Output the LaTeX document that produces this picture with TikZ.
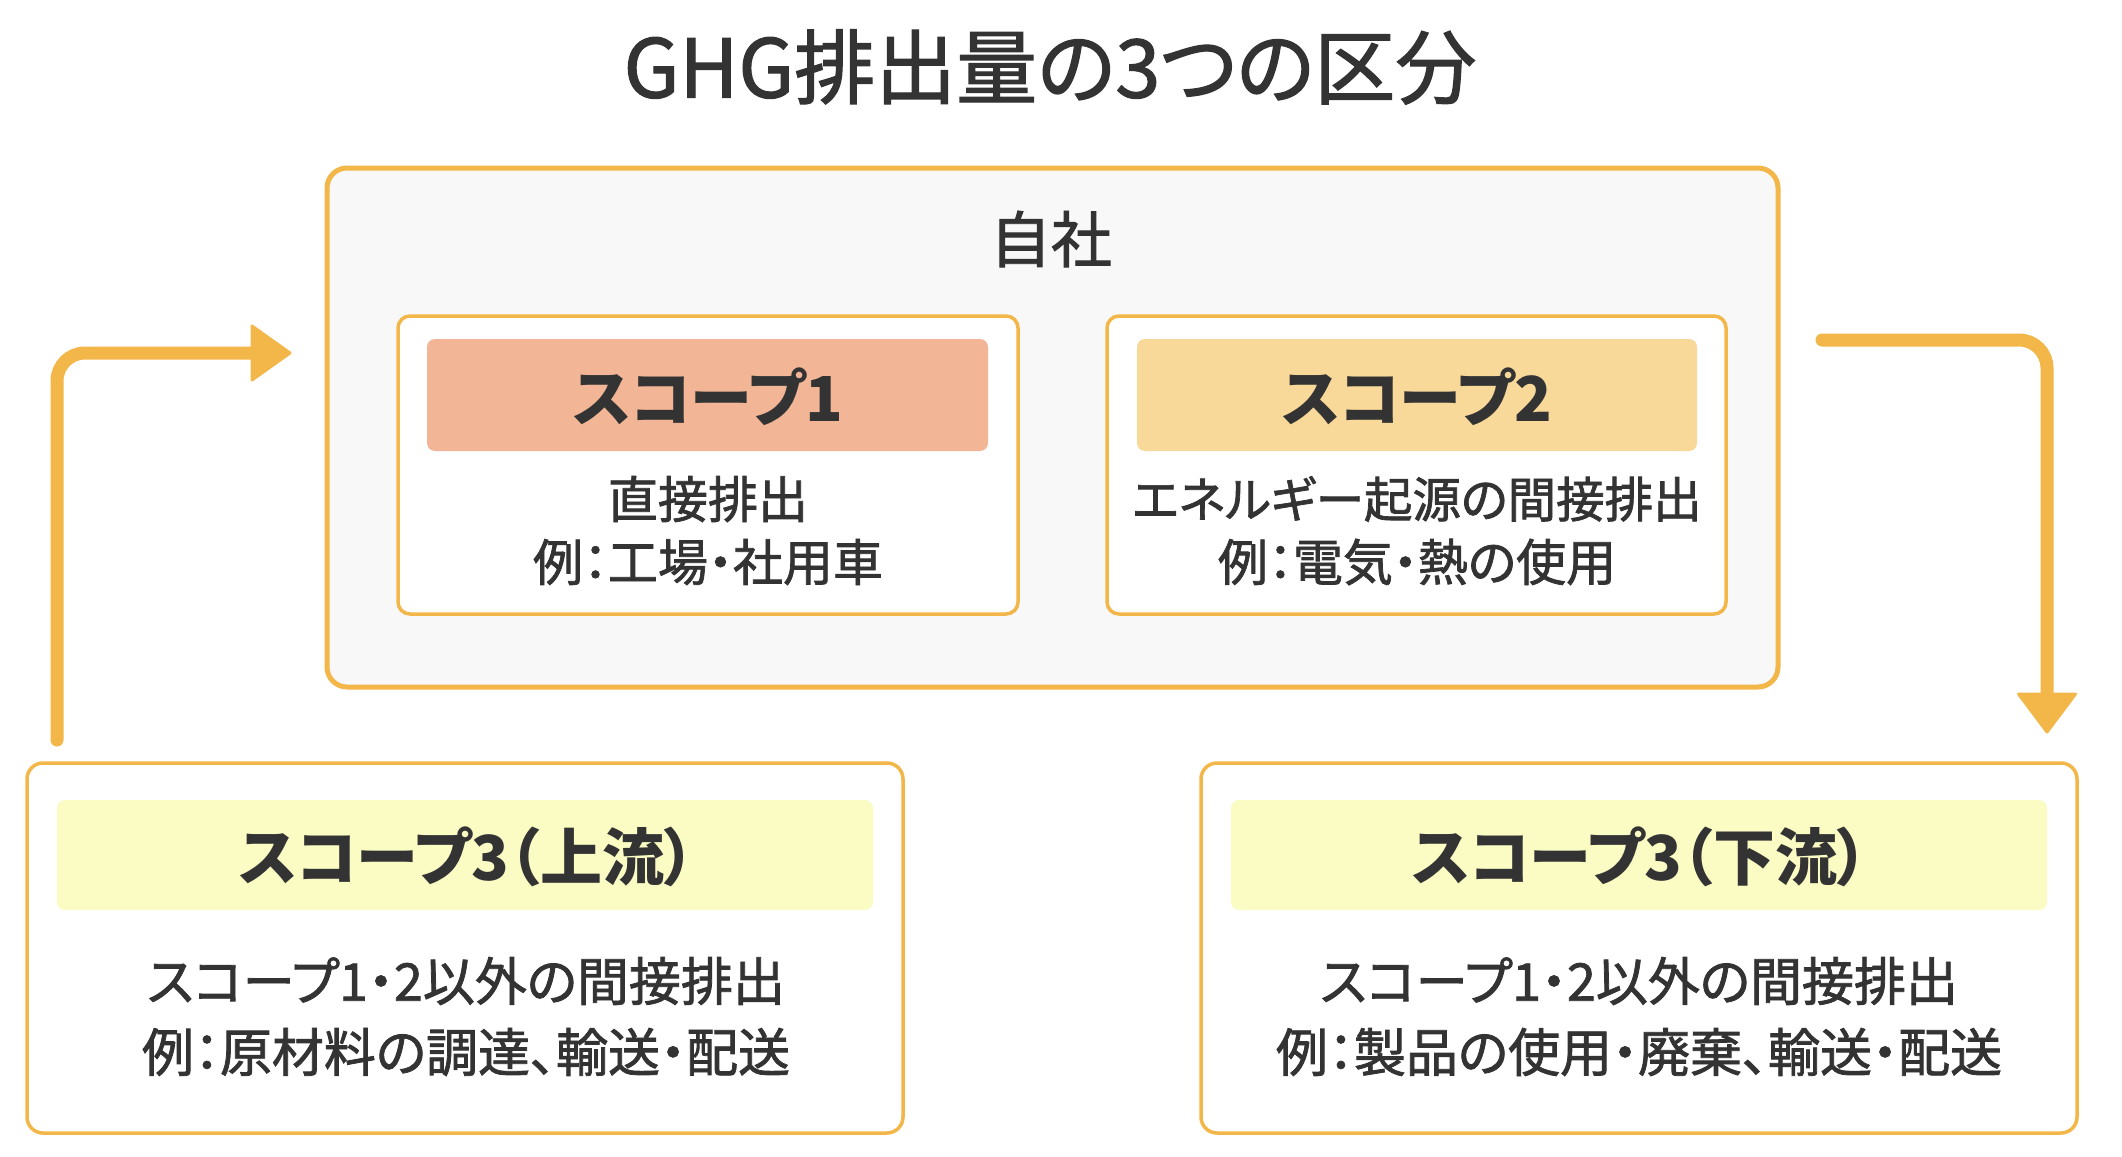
\documentclass[tikz,border=0pt]{standalone}
\usepackage{fontspec}
\setmainfont{Noto Sans CJK JP}[RawFeature=+palt]
\newfontfamily\medfont{Noto Sans CJK JP}[RawFeature=+palt, FakeBold=1.5]
\definecolor{accent}{HTML}{F3B648}
\definecolor{framefill}{HTML}{F8F8F8}
\definecolor{hdrone}{HTML}{F2B696}
\definecolor{hdrtwo}{HTML}{F9D999}
\definecolor{hdrthree}{HTML}{FBFCC4}
\definecolor{ink}{HTML}{333333}
\begin{document}
\begin{tikzpicture}[x=1pt,y=-1pt,
  outerframe/.style={draw=accent, line width=5pt, fill=framefill, rounded corners=20pt, inner sep=0pt},
  scopebox/.style={draw=accent, line width=3.5pt, fill=white, rounded corners=12pt, inner sep=0pt},
  hdrbox/.style={rounded corners=8pt, inner sep=0pt},
  hdrtext/.style={text=ink, inner sep=0pt, font=\bfseries\fontsize{62}{72}\selectfont},
  bodytext/.style={text=ink, inner sep=0pt, font=\medfont\fontsize{50}{60}\selectfont},
  bodylarge/.style={text=ink, inner sep=0pt, font=\medfont\fontsize{52}{62}\selectfont},
  flowline/.style={draw=accent, line width=13pt, line cap=round, rounded corners=28pt},
  headfill/.style={fill=accent, draw=accent, line width=3pt, line join=round}
]
\useasboundingbox (0,0) rectangle (2122,1156);
% title
\node[text=ink, inner sep=0pt, font=\medfont\fontsize{81}{95}\selectfont] (title) at (1050,67) {GHG排出量の3つの区分};
% company frame
\node[outerframe, minimum width=1451pt, minimum height=519pt] (frame) at (1052.5,427.5) {};
\node[text=ink, inner sep=0pt, font=\medfont\fontsize{61}{72}\selectfont] (company) at (1051,239) {自社};
% scope 1
\node[scopebox, minimum width=620pt, minimum height=298pt] (s1) at (708,465) {};
\node[hdrbox, fill=hdrone, minimum width=561pt, minimum height=112pt] (s1h) at (707.5,395) {};
\node[hdrtext] (s1t) at (708,397) {スコープ1};
\node[bodytext] (s1a) at (708,499) {直接排出};
\node[bodytext] (s1b) at (708,562) {例：工場・社用車};
% scope 2
\node[scopebox, minimum width=619pt, minimum height=298pt] (s2) at (1416.5,465) {};
\node[hdrbox, fill=hdrtwo, minimum width=560pt, minimum height=112pt] (s2h) at (1417,395) {};
\node[hdrtext] (s2t) at (1417,397) {スコープ2};
\node[bodytext, font=\medfont\fontsize{48.5}{58}\selectfont] (s2a) at (1417,499) {エネルギー起源の間接排出};
\node[bodytext] (s2b) at (1417,562) {例：電気・熱の使用};
% scope 3 upstream
\node[scopebox, rounded corners=16pt, minimum width=876pt, minimum height=370pt] (s3u) at (465,948) {};
\node[hdrbox, fill=hdrthree, minimum width=816pt, minimum height=110pt] (s3uh) at (465,855) {};
\node[hdrtext] (s3ut) at (467,857) {スコープ3（上流）};
\node[bodylarge] (s3ua) at (466,981) {スコープ1・2以外の間接排出};
\node[bodylarge] (s3ub) at (466,1052) {例：原材料の調達、輸送・配送};
% scope 3 downstream
\node[scopebox, rounded corners=16pt, minimum width=876pt, minimum height=370pt] (s3d) at (1639,948) {};
\node[hdrbox, fill=hdrthree, minimum width=816pt, minimum height=110pt] (s3dh) at (1639,855) {};
\node[hdrtext] (s3dt) at (1640,857) {スコープ3（下流）};
\node[bodylarge] (s3da) at (1639,981) {スコープ1・2以外の間接排出};
\node[bodylarge] (s3db) at (1639,1052) {例：製品の使用・廃棄、輸送・配送};
% connectors
\coordinate (upstart) at (57,740);
\coordinate (upbase) at (252,353);
\coordinate (uptip) at (290,353);
\draw[flowline] (upstart) |- (upbase);
\filldraw[headfill] ([yshift=-27pt]upbase) -- (uptip) -- ([yshift=27pt]upbase) -- cycle;
\coordinate (downstart) at (1822,340);
\coordinate (downbase) at (2047,694);
\coordinate (downtip) at (2047,732);
\draw[flowline] (downstart) -| (downbase);
\filldraw[headfill] ([xshift=-28.5pt]downbase) -- (downtip) -- ([xshift=28.5pt]downbase) -- cycle;
\end{tikzpicture}
\end{document}
